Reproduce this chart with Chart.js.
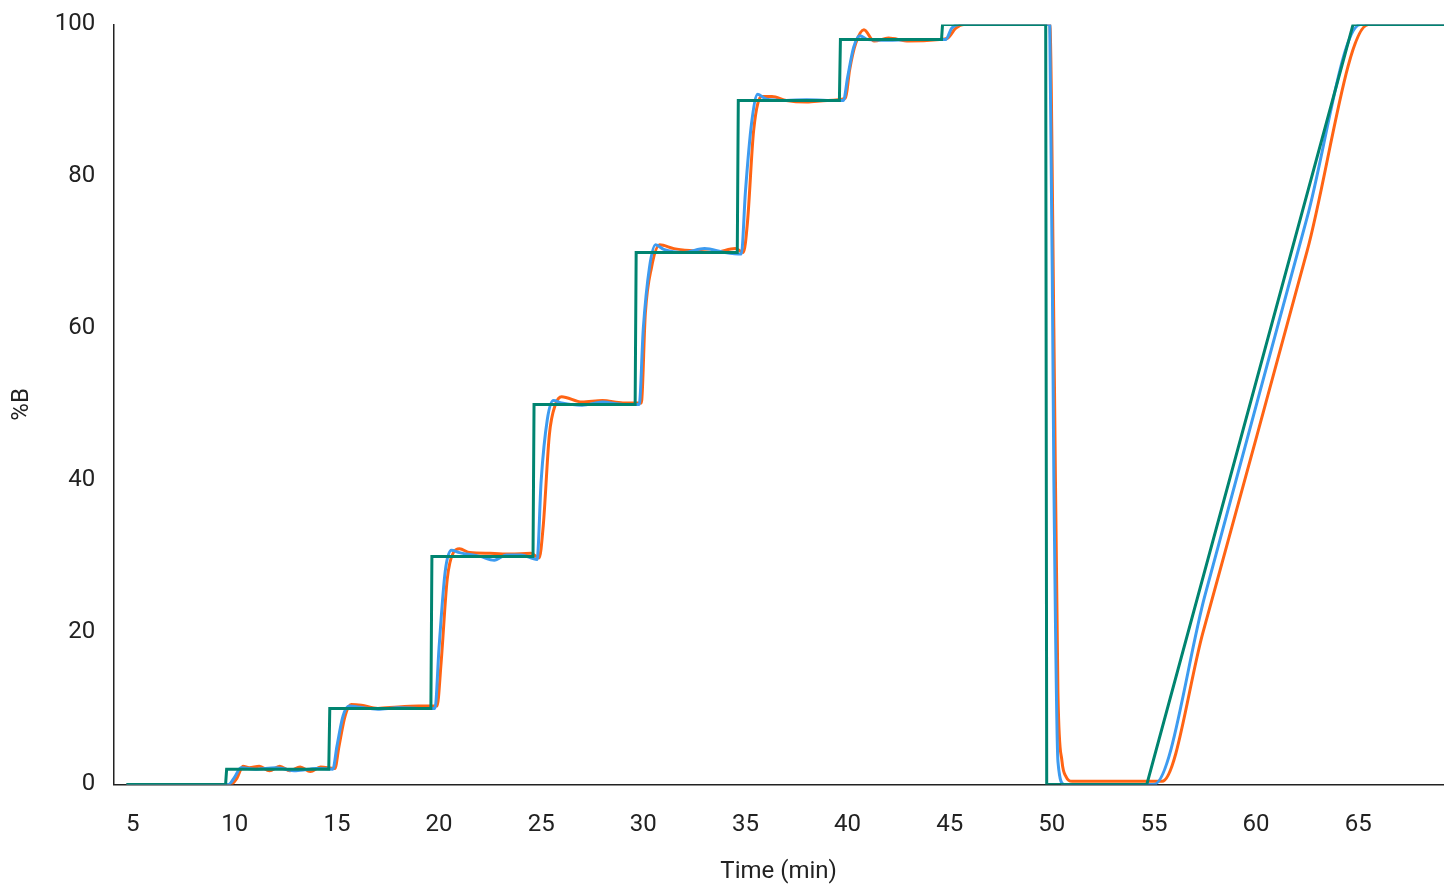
<!DOCTYPE html>
<html>
<head>
<meta charset="utf-8">
<script src="https://cdn.jsdelivr.net/npm/chart.js@4.4.0/dist/chart.umd.min.js"></script>
<style>
  html, body { margin: 0; padding: 0; background: #fff; }
  #wrap { width: 1444px; height: 888px; }
</style>
</head>
<body>
<div id="wrap"><canvas id="chart"></canvas></div>
<script>
// Gradient program (green), two measured traces (blue, orange)
const programX = [4.7, 9.55, 9.6, 14.6, 14.65, 19.6, 19.65, 24.6, 24.65, 29.6, 29.65, 34.6, 34.65, 39.6, 39.65, 44.6, 44.65, 49.7, 49.75, 54.65, 64.75, 69.2];
const programY = [0, 0, 2, 2, 10, 10, 30, 30, 50, 50, 70, 70, 90, 90, 98, 98, 100, 100, 0, 0, 100, 100];

const blueX = [4.7, 9.7, 10.0, 10.3, 11, 12, 13, 14, 14.8, 15.0, 15.3, 15.6, 16, 17, 18, 19, 19.8, 20.0, 20.3, 20.6, 21, 22, 22.7, 23.3, 24, 24.8, 25.0, 25.3, 25.6, 26, 27, 28, 29, 29.8, 30.0, 30.3, 30.6, 31, 32, 33, 34, 34.8, 35.0, 35.3, 35.6, 36, 37, 38, 39, 39.8, 40.0, 40.3, 40.6, 41, 42, 43, 44, 44.8, 45.1, 45.5, 49.9, 50.1, 50.3, 50.6, 54.8, 55.0, 57.5, 60, 62.5, 65.1, 65.2, 69.2];
const blueY = [0, 0, 1, 2.2, 2, 2.2, 1.8, 2.1, 2, 5, 9, 10.3, 10.2, 9.9, 10.1, 10, 10, 18, 28, 30.8, 30.5, 30, 29.5, 30.2, 30.2, 29.6, 40, 48, 50.5, 50.2, 49.9, 50.3, 50, 50, 60, 68, 71, 70.4, 70, 70.5, 70, 69.8, 78, 87, 90.8, 90.2, 90, 90.1, 90, 90, 93, 97, 98.5, 98, 97.9, 98, 98, 98, 99.5, 100, 100, 40, 3, 0, 0, 0, 24.9, 49.8, 74.6, 100, 100, 100];

const orangeX = [4.7, 9.8, 10.1, 10.4, 10.7, 11.2, 11.7, 12.2, 12.7, 13.2, 13.7, 14.2, 14.9, 15.1, 15.4, 15.7, 16.2, 17, 18, 19, 19.9, 20.1, 20.4, 20.7, 21, 21.5, 22.5, 23.5, 24.5, 24.9, 25.1, 25.4, 25.7, 26, 27, 28, 29, 29.9, 30.1, 30.4, 30.8, 31.5, 32.5, 33.5, 34.5, 34.9, 35.1, 35.4, 35.8, 36.3, 37, 38, 39, 39.9, 40.1, 40.4, 40.8, 41.3, 42, 43, 44.5, 44.9, 45.3, 45.7, 49.9, 50.1, 50.3, 50.5, 50.7, 51.0, 55.2, 55.4, 57.4, 60, 62.5, 65.5, 65.6, 69.2];
const orangeY = [0, 0, 0.8, 2.4, 2.2, 2.4, 1.8, 2.4, 1.8, 2.3, 1.7, 2.3, 2.1, 5, 9, 10.5, 10.4, 10, 10.2, 10.3, 10.3, 16, 27, 30.5, 31, 30.5, 30.4, 30.3, 30.4, 29.8, 34, 46, 50, 51, 50.3, 50.5, 50.2, 50.2, 62, 68, 71, 70.5, 70.2, 70, 70.5, 70, 74, 86, 90.5, 90.5, 90, 89.8, 90, 90.3, 94, 97.5, 99.3, 97.8, 98.2, 97.8, 98, 98.2, 99.5, 100, 100, 60, 12, 3, 1, 0.4, 0.4, 0.4, 20, 45.5, 70.2, 100, 100, 100];

const xTicks = [5, 10, 15, 20, 25, 30, 35, 40, 45, 50, 55, 60, 65];

const pts = (xs, ys) => xs.map((x, i) => ({ x: x, y: ys[i] }));
const font = { family: 'Roboto, "Liberation Sans", sans-serif', size: 24 };

new Chart(document.getElementById('chart'), {
  type: 'line',
  data: {
    datasets: [
      { data: pts(programX, programY), borderColor: '#008470', borderWidth: 3, pointRadius: 0, tension: 0 },
      { data: pts(blueX, blueY), borderColor: '#3d9bf0', borderWidth: 3, pointRadius: 0, cubicInterpolationMode: 'monotone' },
      { data: pts(orangeX, orangeY), borderColor: '#ff6414', borderWidth: 3, pointRadius: 0, cubicInterpolationMode: 'monotone' }
    ]
  },
  options: {
    responsive: true,
    maintainAspectRatio: false,
    animation: false,
    layout: { padding: { top: 10, right: 0, left: 0, bottom: 0 } },
    plugins: { legend: { display: false }, tooltip: { enabled: false } },
    scales: {
      x: {
        type: 'linear', min: 4.05, max: 69.2,
        afterBuildTicks: axis => { axis.ticks = xTicks.map(v => ({ value: v })); },
        grid: { display: false, drawTicks: true, tickLength: 10, tickColor: '#222' },
        border: { color: '#222', width: 1.5 },
        ticks: { color: '#222', font: font, padding: 16, maxRotation: 0 },
        title: { display: true, text: 'Time (min)', color: '#222', font: font, padding: 2 }
      },
      y: {
        min: 0, max: 100,
        grid: { display: false, drawTicks: true, tickLength: 8, tickColor: '#222' },
        border: { color: '#222', width: 1.5 },
        ticks: { stepSize: 20, color: '#222', font: font, padding: 10 },
        title: { display: true, text: '%B', color: '#222', font: font, padding: 8 }
      }
    }
  }
});
</script>
</body>
</html>
